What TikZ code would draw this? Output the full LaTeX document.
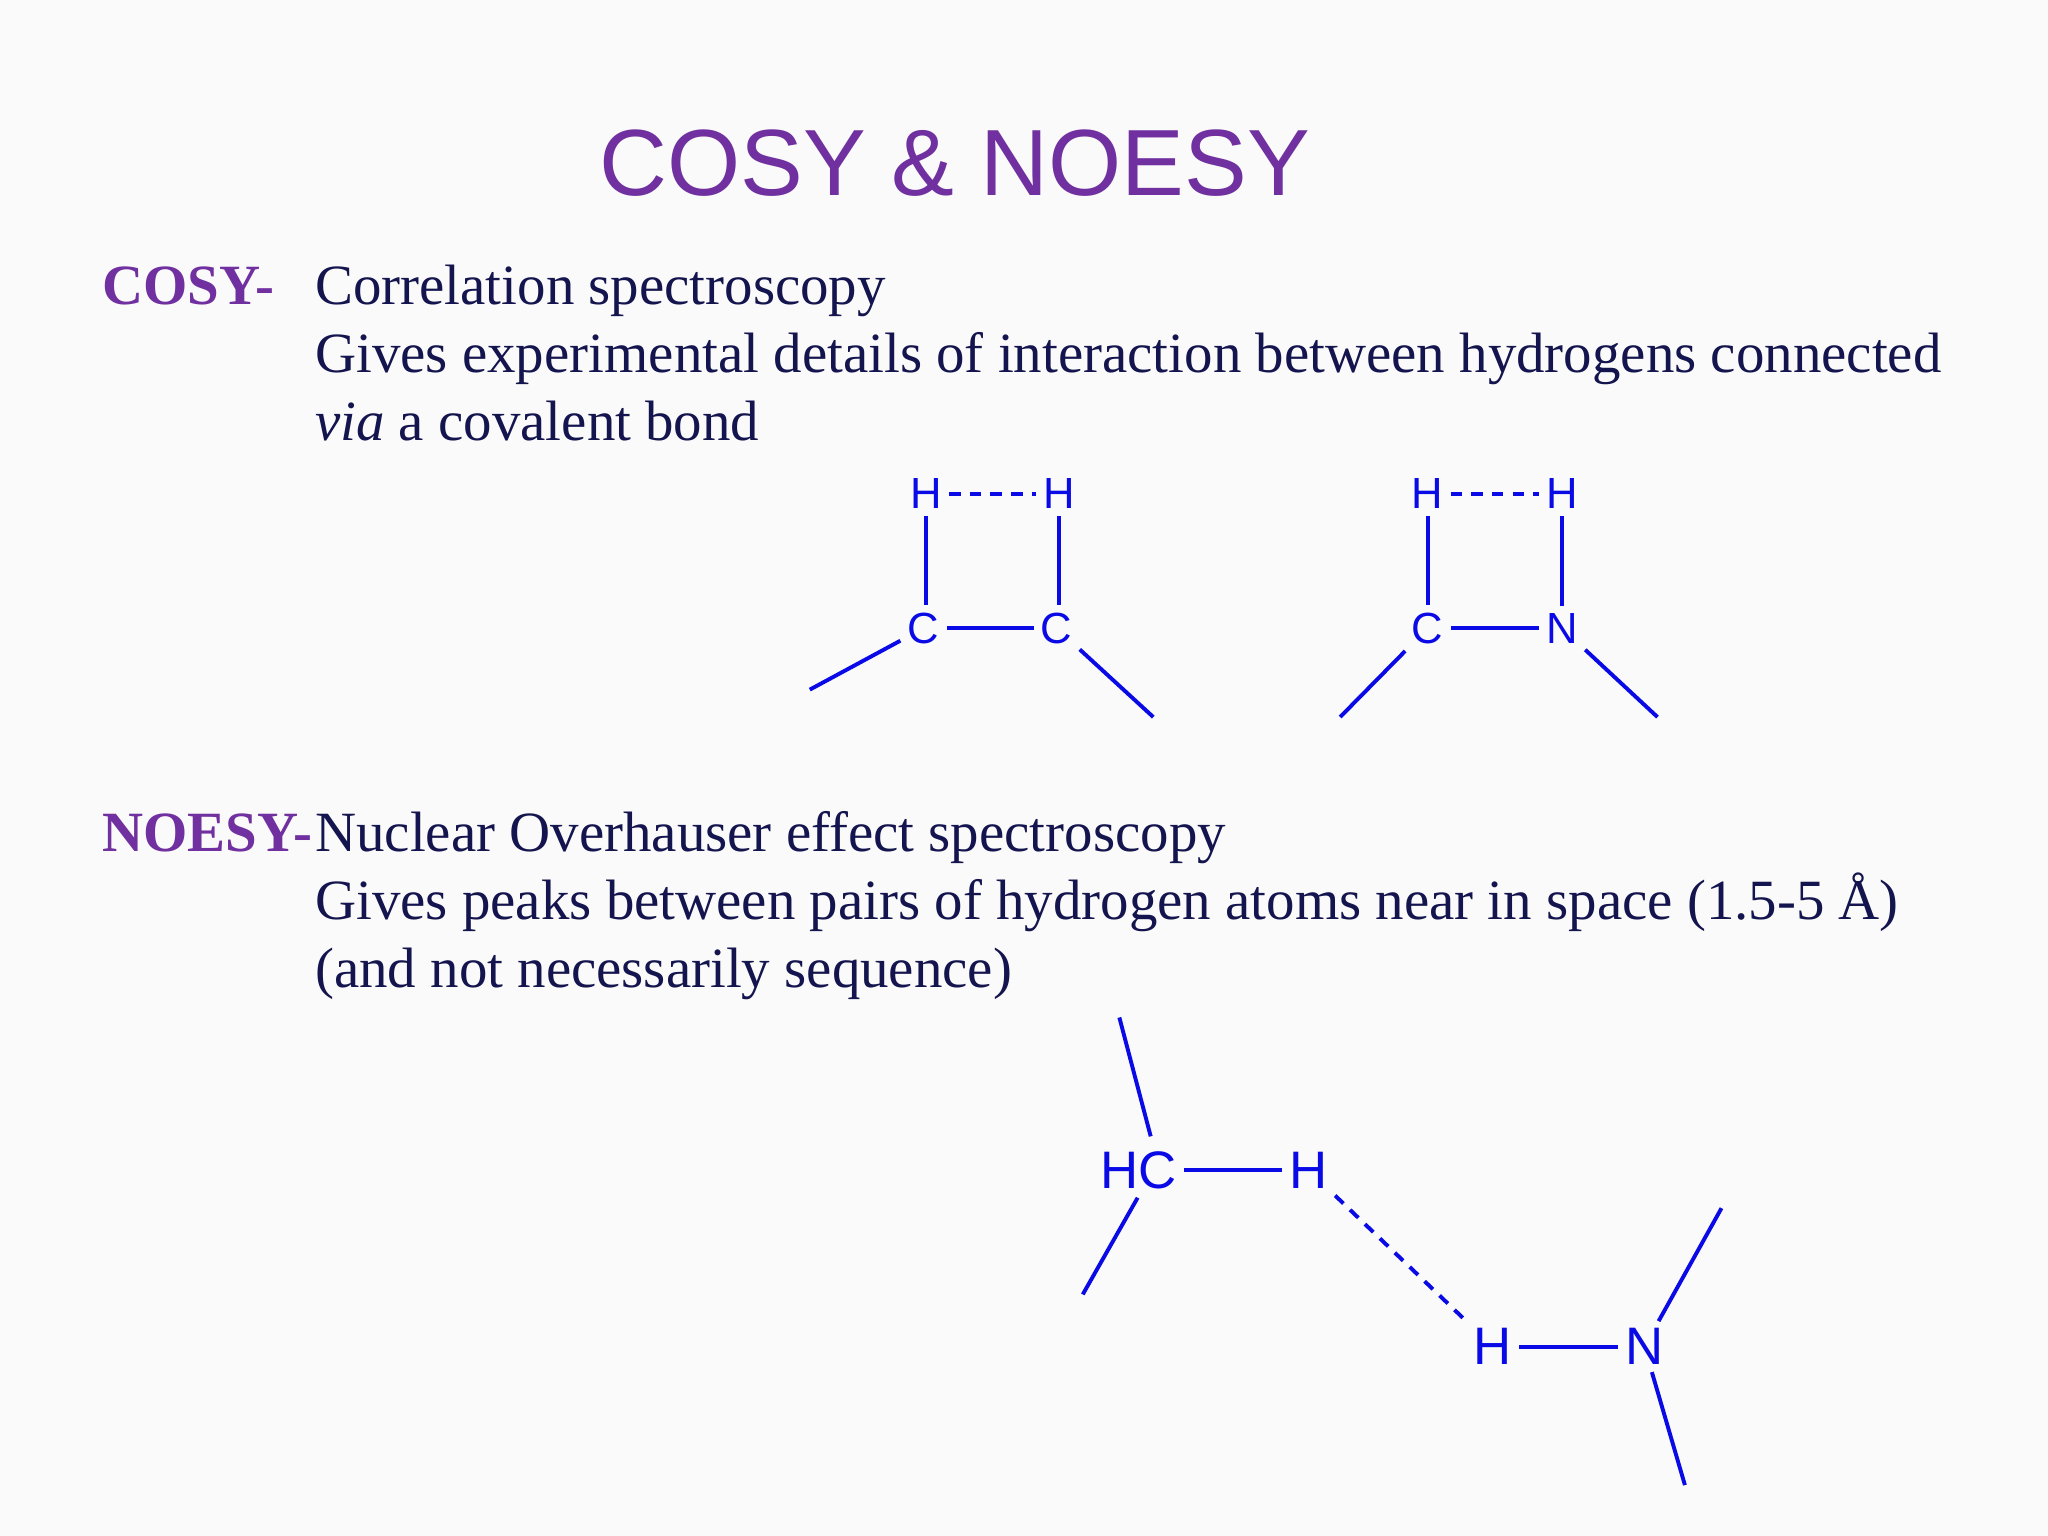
\documentclass[tikz,border=0pt]{standalone}
\usepackage{fontspec}
\setmainfont{Liberation Serif}
\newfontfamily\arial{Liberation Sans}
\definecolor{ttl}{HTML}{7030A0}
\definecolor{body}{HTML}{14144E}
\definecolor{chem}{HTML}{0A0AE6}
\begin{document}
\begin{tikzpicture}[x=0.02cm,y=-0.02cm,
  txt/.style={anchor=base west,inner sep=0,text=body,font=\fontsize{24.8}{30}\selectfont},
  lab/.style={anchor=base west,inner sep=0,text=ttl,font=\fontsize{24.8}{30}\selectfont\bfseries},
  atom/.style={text=chem,font=\arial\fontsize{19}{22}\selectfont,inner sep=3pt},
  bond/.style={chem,line width=1.7pt},
  hbond/.style={chem,line width=1.7pt,dash pattern=on 5pt off 4pt}]
\fill[white!98!black] (0,0) rectangle (1568,1176);
\node[text=ttl,font=\arial\fontsize{41}{48}\selectfont] (title) at (731,125) {COSY \& NOESY};
\node[lab] (cl) at (78,233) {COSY-};
\node[txt] (c1) at (241,233) {Correlation spectroscopy};
\node[txt] (c2) at (241,285) {Gives experimental details of interaction between hydrogens connected};
\node[txt] (c3) at (241,337) {\textit{via} a covalent bond};
\node[lab] (nl) at (78,652) {NOESY-};
\node[txt] (n1) at (241,652) {Nuclear Overhauser effect spectroscopy};
\node[txt] (n2) at (241,704) {Gives peaks between pairs of hydrogen atoms near in space (1.5-5 Å)};
\node[txt] (n3) at (241,756) {(and not necessarily sequence)};
% molecule 1
\node[atom] (a1) at (709,378) {H};
\node[atom] (a2) at (811,378) {H};
\node[atom] (a3) at (707,481) {C};
\node[atom] (a4) at (809,481) {C};
\coordinate (a5) at (620,528);
\coordinate (a6) at (883,549);
\draw[hbond] (a1) -- (a2);
\draw[bond] (a1.south) -- (a1.south |- a3.north);
\draw[bond] (a2.south) -- (a2.south |- a4.north);
\draw[bond] (a3) -- (a4);
\draw[bond] (a3) -- (a5);
\draw[bond] (a4) -- (a6);
% molecule 2
\node[atom] (b1) at (1093,378) {H};
\node[atom] (b2) at (1196,378) {H};
\node[atom] (b3) at (1093,481) {C};
\node[atom] (b4) at (1196,481) {N};
\coordinate (b5) at (1026,549);
\coordinate (b6) at (1269,549);
\draw[hbond] (b1) -- (b2);
\draw[bond] (b1.south) -- (b1.south |- b3.north);
\draw[bond] (b2.south) -- (b2.south |- b4.north);
\draw[bond] (b3) -- (b4);
\draw[bond] (b3) -- (b5);
\draw[bond] (b4) -- (b6);
% molecule 3
\node[atom,font=\arial\fontsize{23}{26}\selectfont] (m1) at (872,896) {HC};
\node[atom,font=\arial\fontsize{23}{26}\selectfont] (m2) at (1002,896) {H};
\node[atom,font=\arial\fontsize{23}{26}\selectfont] (m3) at (1143,1031) {H};
\node[atom,font=\arial\fontsize{23}{26}\selectfont] (m4) at (1259,1031) {N};
\coordinate (m5) at (857,779);
\coordinate (m6) at (829,991);
\coordinate (m7) at (1318,925);
\coordinate (m8) at (1290,1137);
\draw[bond] (m1) -- (m2);
\draw[bond] (m5) -- (881,870);
\draw[bond] (m6) -- (871,917);
\draw[hbond] (m2) -- (m3);
\draw[bond] (m3) -- (m4);
\draw[bond] (m4) -- (m7);
\draw[bond] (m4) -- (m8);
\end{tikzpicture}
\end{document}
